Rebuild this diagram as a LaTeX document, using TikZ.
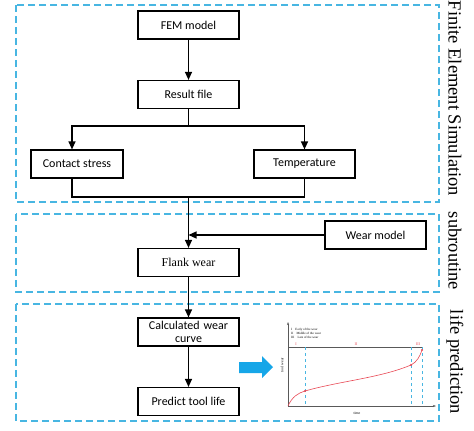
\documentclass[tikz,border=0pt]{standalone}
\usepackage{fontspec}
\setmainfont{Liberation Serif}
\newfontfamily\boxfont{Carlito}
\usetikzlibrary{arrows.meta}
\newcommand{\bw}{101pt}
\newcommand{\bh}{28pt}
\definecolor{frameblue}{RGB}{72,182,226}
\definecolor{arrowblue}{RGB}{22,166,232}
\definecolor{curvered}{RGB}{232,72,84}

\begin{document}
\begin{tikzpicture}[x=1pt,y=-1pt,
    rect/.style={draw, rectangle, minimum width=\bw, minimum height=\bh, inner sep=0pt, line width=1.2pt, font=\boxfont\fontsize{12}{14}\selectfont},
    frame/.style={draw=frameblue, dash pattern=on 7pt off 4pt, line width=1.2pt},
    side/.style={rotate=-90, font=\fontsize{18.5}{20}\selectfont},
    flow/.style={-{Triangle[length=8pt,width=7pt]}, line width=1.2pt},
    tiny/.style={inner sep=0pt, font=\fontsize{3.2}{3.8}\selectfont}]
    \useasboundingbox (0,0) rectangle (474,431);

    % Frames
    \draw[frame] (16,5) rectangle (439,202);
    \draw[frame] (16,214) rectangle (439,292);
    \draw[frame] (16,304) rectangle (439,421);
    \node[side] (sim) at (455,98.5) {Finite Element Simulation};
    \node[side] (sub) at (455,251) {subroutine};
    \node[side] (life) at (455,362) {life prediction};

    % Finite element part
    \node[rect] (fem) at (188.5,25) {FEM model};
    \node[rect] (result) at (188.5,94.5) {Result file};
    \node[rect, minimum width=92pt] (contact) at (77,164) {Contact stress};
    \node[rect] (temp) at (304.5,164) {Temperature};
    \coordinate (split) at (188.5,126);
    \coordinate (merge) at (188.5,197);

    % Subroutine part
    \node[rect] (wear) at (375.5,235) {Wear model};
    \node[rect, font=\fontsize{12}{14}\selectfont] (flank) at (188.5,262.5) {Flank wear};

    % Prediction part
    \node[rect, align=center, text width=\bw] (curve) at (188.5,332) {Calculated wear\\[-1pt]curve};
    \node[rect] (predict) at (188.5,401.5) {Predict tool life};

    % Connectors
    \draw[flow] (fem) -- (result);
    \draw[line width=1.2pt] (result) -- (split);
    \draw[flow] (split) -| (contact.north -| 72,0);
    \draw[flow] (split) -| (temp.north);
    \draw[line width=1.2pt] (contact.south -| 72,0) |- (merge) -| (temp.south);
    \draw[flow] (merge) -- (flank);
    \draw[flow] (wear.west) -- (wear.west -| merge);
    \draw[flow] (flank) -- (curve);
    \draw[flow] (curve) -- (predict);

    % Blue arrow
    \fill[arrowblue] (239,362) -- (262,362) -- (262,356) -- (273,367) -- (262,378) -- (262,373) -- (239,373) -- cycle;

    % Wear curve
    \draw[line width=0.4pt, gray!70!black, -{Stealth[length=3pt,width=2pt]}] (288,406) -- (288,322);
    \draw[line width=0.4pt, gray!70!black, -{Stealth[length=3pt,width=2pt]}] (288,406) -- (436,406);
    \draw[line width=0.4pt, gray!70!black] (288,347) -- (423,347);
    \foreach \t in {305,411,422}
        \draw[frameblue, dashed, line width=0.4pt] (\t,347) -- (\t,406);
    \draw[curvered, line width=0.6pt] (288,406) .. controls (292,397) and (298,393) .. (305,391)
        .. controls (340,381) and (380,378) .. (411,365) .. controls (417,362) and (420,356) .. (422,350);
    \foreach \p in {(305,391),(411,365),(422,350)}
        \fill[curvered] \p circle (1.1pt);
    \node[tiny, anchor=west, align=left] (legend) at (291,333.5) {I\quad Early of the wear\\II\quad Middle of the wear\\III\quad Late of the wear};
    \node[tiny, curvered, font=\fontsize{4}{4}\selectfont] (st1) at (296,344) {I};
    \node[tiny, curvered, font=\fontsize{4}{4}\selectfont] (st2) at (356,344) {II};
    \node[tiny, curvered, font=\fontsize{4}{4}\selectfont] (st3) at (418,344) {III};
    \node[tiny, rotate=90, font=\fontsize{3.8}{4}\selectfont] (ylab) at (282,365) {tool wear};
    \node[tiny, font=\fontsize{3.8}{4}\selectfont] (xlab) at (357,413) {time};

\end{tikzpicture}
\end{document}
